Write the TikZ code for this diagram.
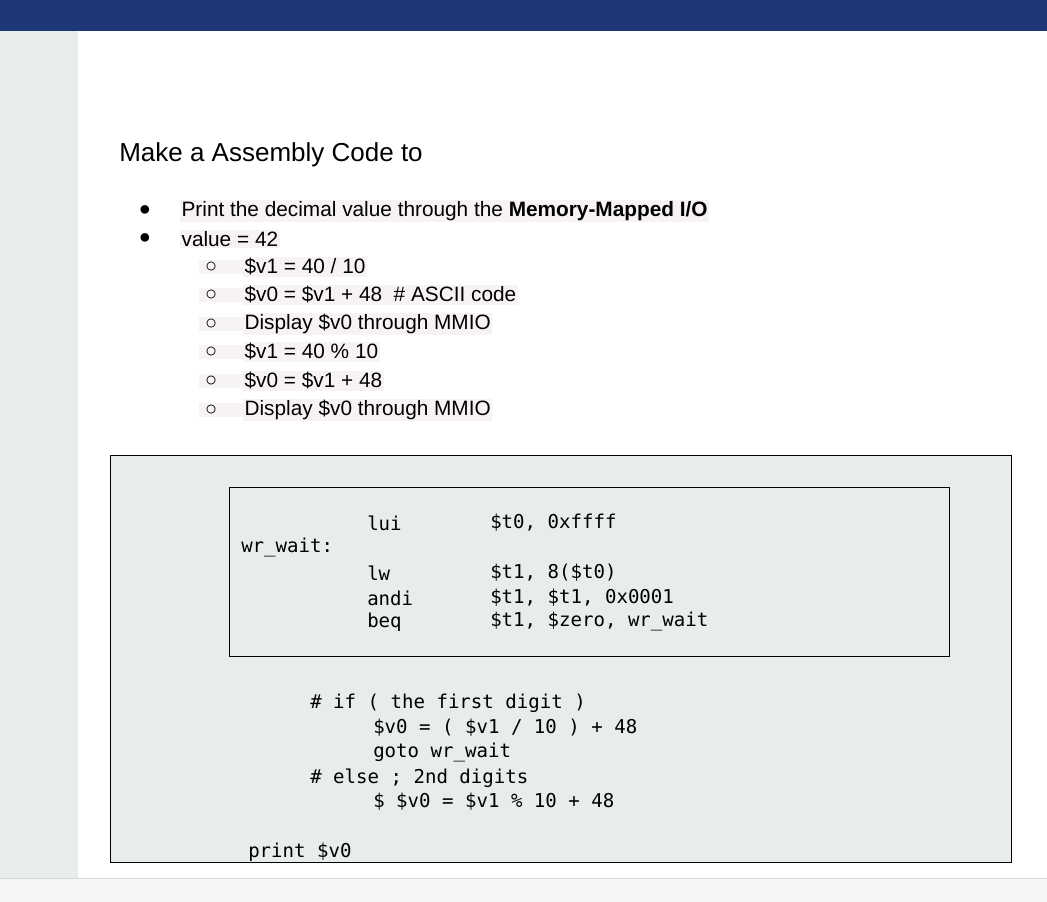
\documentclass[tikz,border=0pt]{standalone}
\usepackage{fontspec}
\setmainfont{Liberation Sans}
\newfontfamily\codefont{DejaVu Sans Mono}
\definecolor{navy}{RGB}{30,55,120}
\definecolor{pane}{RGB}{232,236,237}
\definecolor{foot}{RGB}{244,245,247}
\definecolor{mark}{RGB}{248,243,243}

\begin{document}
\begin{tikzpicture}[x=0.75pt,y=-0.75pt,
    txt/.style={anchor=west,inner sep=1pt,font=\fontsize{15.6}{17}\selectfont,fill=mark},
    dot/.style={font=\fontsize{15}{16}\selectfont},
    code/.style={anchor=west,inner sep=0pt,font=\codefont\fontsize{14.3}{16}\selectfont}]
    \useasboundingbox (0,0) rectangle (1047,902);
    % page frame
    \fill[foot] (0,0) rectangle (1047,902);
    \fill[pane] (0,31) rectangle (78,878);
    \fill[white] (78,31) rectangle (1047,878);
    \draw[black!15] (0,878) -- (1047,878);
    \fill[navy] (0,0) rectangle (1047,31);
    % title and bullets
    \node[anchor=west,inner sep=0pt,font=\fontsize{19.5}{21}\selectfont] (title) at (119,155) {Make a Assembly Code to};
    \node[dot] (b1) at (145,211) {●};
    \node[dot] (b2) at (145,239) {●};
    \node[txt] (t1) at (180,211) {Print the decimal value through the \textbf{Memory-Mapped I/O}};
    \node[txt] (t2) at (180,239) {value = 42};
    \begin{scope}[every node/.style={dot,fill=mark,minimum width=44pt,anchor=west,inner sep=1pt}]
        \node (c1) at (199,267) {\hspace*{-26pt}○};
        \node (c2) at (199,295) {\hspace*{-26pt}○};
        \node (c3) at (199,324) {\hspace*{-26pt}○};
        \node (c4) at (199,352) {\hspace*{-26pt}○};
        \node (c5) at (199,381) {\hspace*{-26pt}○};
        \node (c6) at (199,410) {\hspace*{-26pt}○};
    \end{scope}
    \node[txt] (s1) at (243,267) {\$v1 = 40 / 10};
    \node[txt] (s2) at (243,295) {\$v0 = \$v1 + 48 \ \# ASCII code};
    \node[txt] (s3) at (243,324) {Display \$v0 through MMIO};
    \node[txt] (s4) at (243,352) {\$v1 = 40 \% 10};
    \node[txt] (s5) at (243,381) {\$v0 = \$v1 + 48};
    \node[txt] (s6) at (243,410) {Display \$v0 through MMIO};
    % code boxes
    \draw[fill=pane] (110,455) rectangle (1011,862);
    \draw (229,487) rectangle (949,656);
    \node[code] (lui) at (367,523) {lui};
    \node[code] (luia) at (490,523) {\$t0, 0xffff};
    \node[code] (lbl) at (241,548) {wr\_wait:};
    \node[code] (lw) at (367,573) {lw};
    \node[code] (lwa) at (490,573) {\$t1, 8(\$t0)};
    \node[code] (andi) at (367,598) {andi};
    \node[code] (andia) at (490,598) {\$t1, \$t1, 0x0001};
    \node[code] (beq) at (367,622) {beq};
    \node[code] (beqa) at (490,622) {\$t1, \$zero, wr\_wait};
    \node[code] (if) at (310,703) {\# if ( the first digit )};
    \node[code] (div) at (373,728) {\$v0 = ( \$v1 / 10 ) + 48};
    \node[code] (goto) at (373,753) {goto wr\_wait};
    \node[code] (else) at (310,778) {\# else ; 2nd digits};
    \node[code] (mod) at (373,802) {\$ \$v0 = \$v1 \% 10 + 48};
    \node[code] (prt) at (248,852) {print \$v0};
\end{tikzpicture}
\end{document}
